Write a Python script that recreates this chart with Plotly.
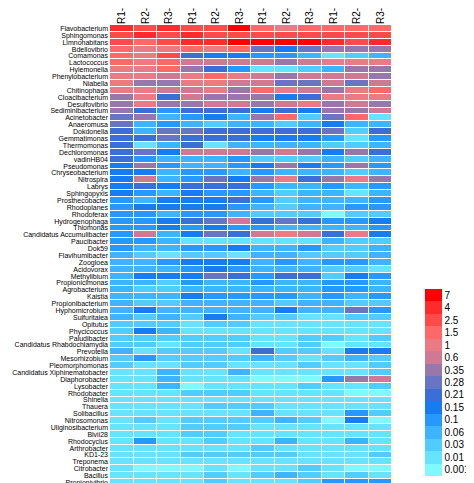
import plotly.graph_objects as go

samples = ["R1-1", "R2-1", "R3-1", "R1-2", "R2-2", "R3-2",
           "R1-3", "R2-3", "R3-3", "R1-4", "R2-4", "R3-4"]

genera = ["Flavobacterium", "Sphingomonas", "Limnohabitans", "Bdellovibrio", "Comamonas",
          "Lactococcus", "Hylemonella", "Phenylobacterium", "Niabella", "Chitinophaga",
          "Cloacibacterium", "Desulfovibrio", "Sediminibacterium", "Acinetobacter", "Anaeromusa",
          "Dokdonella", "Gemmatimonas", "Thermomonas", "Dechloromonas", "vadinHB04",
          "Pseudomonas", "Chryseobacterium", "Nitrospira", "Labrys", "Sphingopyxis",
          "Prosthecobacter", "Rhodoplanes", "Rhodoferax", "Hydrogenophaga", "Thiomonas",
          "Candidatus Accumulibacter", "Paucibacter", "Dok59", "Flavihumibacter", "Zoogloea",
          "Acidovorax", "Methylibium", "Propionicimonas", "Agrobacterium", "Kaistia",
          "Propionibacterium", "Hyphomicrobium", "Sulfuritalea", "Opitutus", "Phycicoccus",
          "Paludibacter", "Candidatus Rhabdochlamydia", "Prevotella", "Mesorhizobium",
          "Pleomorphomonas", "Candidatus Xiphinematobacter", "Diaphorobacter", "Lysobacter",
          "Rhodobacter", "Shinella", "Thauera", "Solibacillus", "Nitrosomonas",
          "Uliginosibacterium", "Blvii28", "Rhodocyclus", "Arthrobacter", "KD1-23",
          "Treponema", "Citrobacter", "Bacillus", "Propionivibrio"]

# legend classes (abundance %), low to high
levels = ["0.001", "0.01", "0.03", "0.06", "0.1", "0.15", "0.21", "0.28",
          "0.35", "0.6", "1", "1.5", "2.5", "4", "7"]
level_colors = ["#80f8ff", "#66e4ff", "#50ccff", "#3cb4ff", "#2599ff", "#157cf2",
                "#3a6fd8", "#6775c2", "#9877aa", "#cf7a92", "#ea7a84", "#ff6868",
                "#ff4a4a", "#ff2b2b", "#ff0000"]

# class index per genus and sample
classes = [
    [13, 12, 13, 12, 12, 14, 11, 10, 11, 11, 11, 11],
    [12, 13, 12, 13, 12, 12, 12, 12, 12, 12, 12, 12],
    [12, 11, 12, 13, 13, 14, 14, 14, 14, 13, 12, 13],
    [11, 10, 10, 11, 10, 11, 7, 5, 7, 8, 8, 8],
    [11, 10, 12, 6, 5, 5, 4, 4, 3, 1, 2, 3],
    [11, 10, 11, 9, 9, 9, 9, 8, 9, 10, 10, 10],
    [10, 10, 11, 8, 6, 4, 1, 1, 2, 3, 8, 8],
    [10, 10, 9, 10, 11, 10, 9, 8, 9, 9, 9, 8],
    [10, 8, 8, 10, 10, 9, 9, 7, 7, 9, 7, 9],
    [10, 10, 9, 9, 10, 8, 11, 10, 9, 8, 10, 11],
    [8, 10, 6, 9, 8, 8, 8, 5, 6, 10, 10, 10],
    [8, 10, 8, 8, 9, 9, 8, 9, 10, 8, 9, 8],
    [8, 6, 4, 6, 6, 6, 5, 6, 5, 8, 8, 9],
    [7, 8, 3, 4, 5, 3, 8, 11, 2, 7, 11, 1],
    [7, 3, 4, 3, 2, 3, 3, 2, 3, 5, 3, 3],
    [6, 3, 7, 7, 6, 6, 6, 6, 6, 7, 2, 6],
    [6, 6, 7, 6, 6, 6, 5, 5, 5, 4, 1, 4],
    [6, 1, 3, 6, 1, 3, 3, 3, 3, 2, 2, 3],
    [6, 7, 5, 9, 9, 9, 8, 9, 8, 5, 8, 6],
    [6, 4, 3, 3, 3, 4, 2, 2, 2, 3, 2, 3],
    [5, 8, 4, 3, 3, 4, 5, 8, 5, 4, 8, 4],
    [5, 5, 3, 4, 4, 3, 4, 3, 3, 3, 2, 3],
    [5, 9, 3, 4, 7, 5, 8, 10, 6, 8, 10, 8],
    [5, 6, 5, 6, 6, 6, 4, 3, 3, 4, 3, 4],
    [5, 4, 3, 5, 4, 4, 3, 2, 3, 3, 1, 3],
    [4, 3, 5, 5, 5, 6, 4, 2, 3, 3, 3, 4],
    [4, 5, 5, 5, 5, 4, 3, 2, 3, 3, 4, 4],
    [4, 4, 3, 4, 4, 3, 2, 2, 2, 0, 2, 2],
    [4, 4, 5, 6, 7, 9, 6, 7, 6, 4, 4, 5],
    [4, 4, 5, 4, 5, 4, 4, 3, 3, 3, 3, 4],
    [4, 9, 3, 5, 7, 6, 9, 10, 9, 6, 10, 5],
    [4, 4, 3, 1, 1, 1, 1, 1, 1, 3, 2, 2],
    [4, 3, 3, 4, 4, 5, 3, 3, 4, 2, 2, 3],
    [3, 2, 1, 2, 2, 1, 3, 3, 2, 2, 2, 3],
    [3, 3, 4, 5, 5, 5, 3, 4, 3, 4, 4, 3],
    [3, 3, 3, 4, 5, 4, 3, 3, 3, 2, 2, 1],
    [3, 5, 5, 5, 7, 6, 4, 6, 6, 2, 5, 4],
    [3, 3, 2, 4, 3, 3, 4, 3, 3, 4, 4, 3],
    [3, 2, 2, 3, 3, 3, 3, 3, 3, 4, 4, 3],
    [3, 3, 3, 5, 4, 4, 4, 4, 3, 4, 3, 4],
    [3, 2, 2, 3, 3, 3, 3, 2, 3, 3, 2, 2],
    [3, 5, 3, 3, 3, 3, 3, 5, 3, 3, 7, 4],
    [3, 2, 3, 2, 5, 3, 2, 2, 1, 1, 2, 2],
    [2, 2, 2, 1, 2, 2, 1, 1, 1, 1, 1, 1],
    [2, 5, 3, 1, 1, 1, 1, 1, 1, 1, 1, 1],
    [2, 2, 2, 2, 2, 2, 1, 1, 2, 2, 1, 2],
    [2, 2, 1, 2, 2, 2, 1, 1, 2, 0, 1, 1],
    [3, 1, 2, 2, 2, 1, 6, 2, 2, 1, 5, 5],
    [2, 4, 2, 2, 2, 2, 3, 2, 1, 2, 3, 2],
    [2, 1, 1, 2, 2, 1, 1, 1, 2, 1, 1, 2],
    [1, 1, 3, 1, 1, 3, 1, 1, 1, 1, 1, 2],
    [1, 1, 3, 1, 1, 1, 0, 0, 0, 4, 8, 9],
    [1, 1, 3, 0, 1, 1, 1, 1, 2, 1, 1, 2],
    [1, 1, 1, 2, 2, 2, 1, 1, 1, 1, 0, 0],
    [1, 1, 1, 1, 1, 1, 1, 1, 1, 1, 1, 1],
    [1, 1, 1, 1, 2, 2, 2, 1, 1, 1, 1, 1],
    [1, 1, 1, 1, 1, 1, 3, 1, 1, 1, 4, 2],
    [1, 2, 1, 2, 2, 2, 2, 3, 2, 0, 5, 0],
    [1, 1, 1, 2, 2, 2, 1, 1, 1, 1, 1, 1],
    [1, 1, 1, 2, 2, 1, 1, 1, 1, 1, 1, 1],
    [1, 4, 1, 1, 2, 1, 1, 3, 1, 1, 3, 1],
    [1, 1, 1, 1, 1, 1, 2, 1, 1, 1, 1, 1],
    [1, 1, 1, 2, 2, 2, 2, 2, 1, 1, 1, 2],
    [1, 1, 1, 1, 1, 1, 1, 1, 1, 1, 1, 1],
    [1, 0, 0, 0, 1, 0, 1, 1, 2, 1, 0, 0],
    [1, 1, 1, 1, 2, 1, 2, 3, 2, 1, 2, 1],
    [1, 1, 1, 1, 2, 1, 1, 1, 2, 4, 4, 4],
]

n = len(levels)
colorscale = []
for i, c in enumerate(level_colors):
    colorscale.append([i / n, c])
    colorscale.append([(i + 1) / n, c])

fig = go.Figure(go.Heatmap(
    z=classes, x=samples, y=genera,
    zmin=-0.5, zmax=n - 0.5, colorscale=colorscale,
    xgap=1, ygap=1,
    colorbar=dict(
        tickvals=list(range(n)), ticktext=levels,
        thickness=17, len=0.45, lenmode="fraction",
        y=0, yanchor="bottom", x=1.08, xanchor="left",
        outlinewidth=0, ticks="", ticklen=0,
        tickfont=dict(size=10, color="black"),
    ),
))

fig.update_xaxes(side="top", tickangle=-90, automargin=False,
                 tickfont=dict(size=10, color="black"), showgrid=False, ticks="")
fig.update_yaxes(autorange="reversed", automargin=False,
                 tickmode="array", tickvals=genera, ticktext=genera,
                 tickfont=dict(size=7, color="black"), showgrid=False, ticks="",
                 ticklabelstandoff=1)
fig.update_layout(
    width=474, height=483,
    margin=dict(l=102, r=56, t=17, b=5),
    font=dict(family="Liberation Sans, Arial"),
    plot_bgcolor="white", paper_bgcolor="white",
)
fig.write_html("out.html")
